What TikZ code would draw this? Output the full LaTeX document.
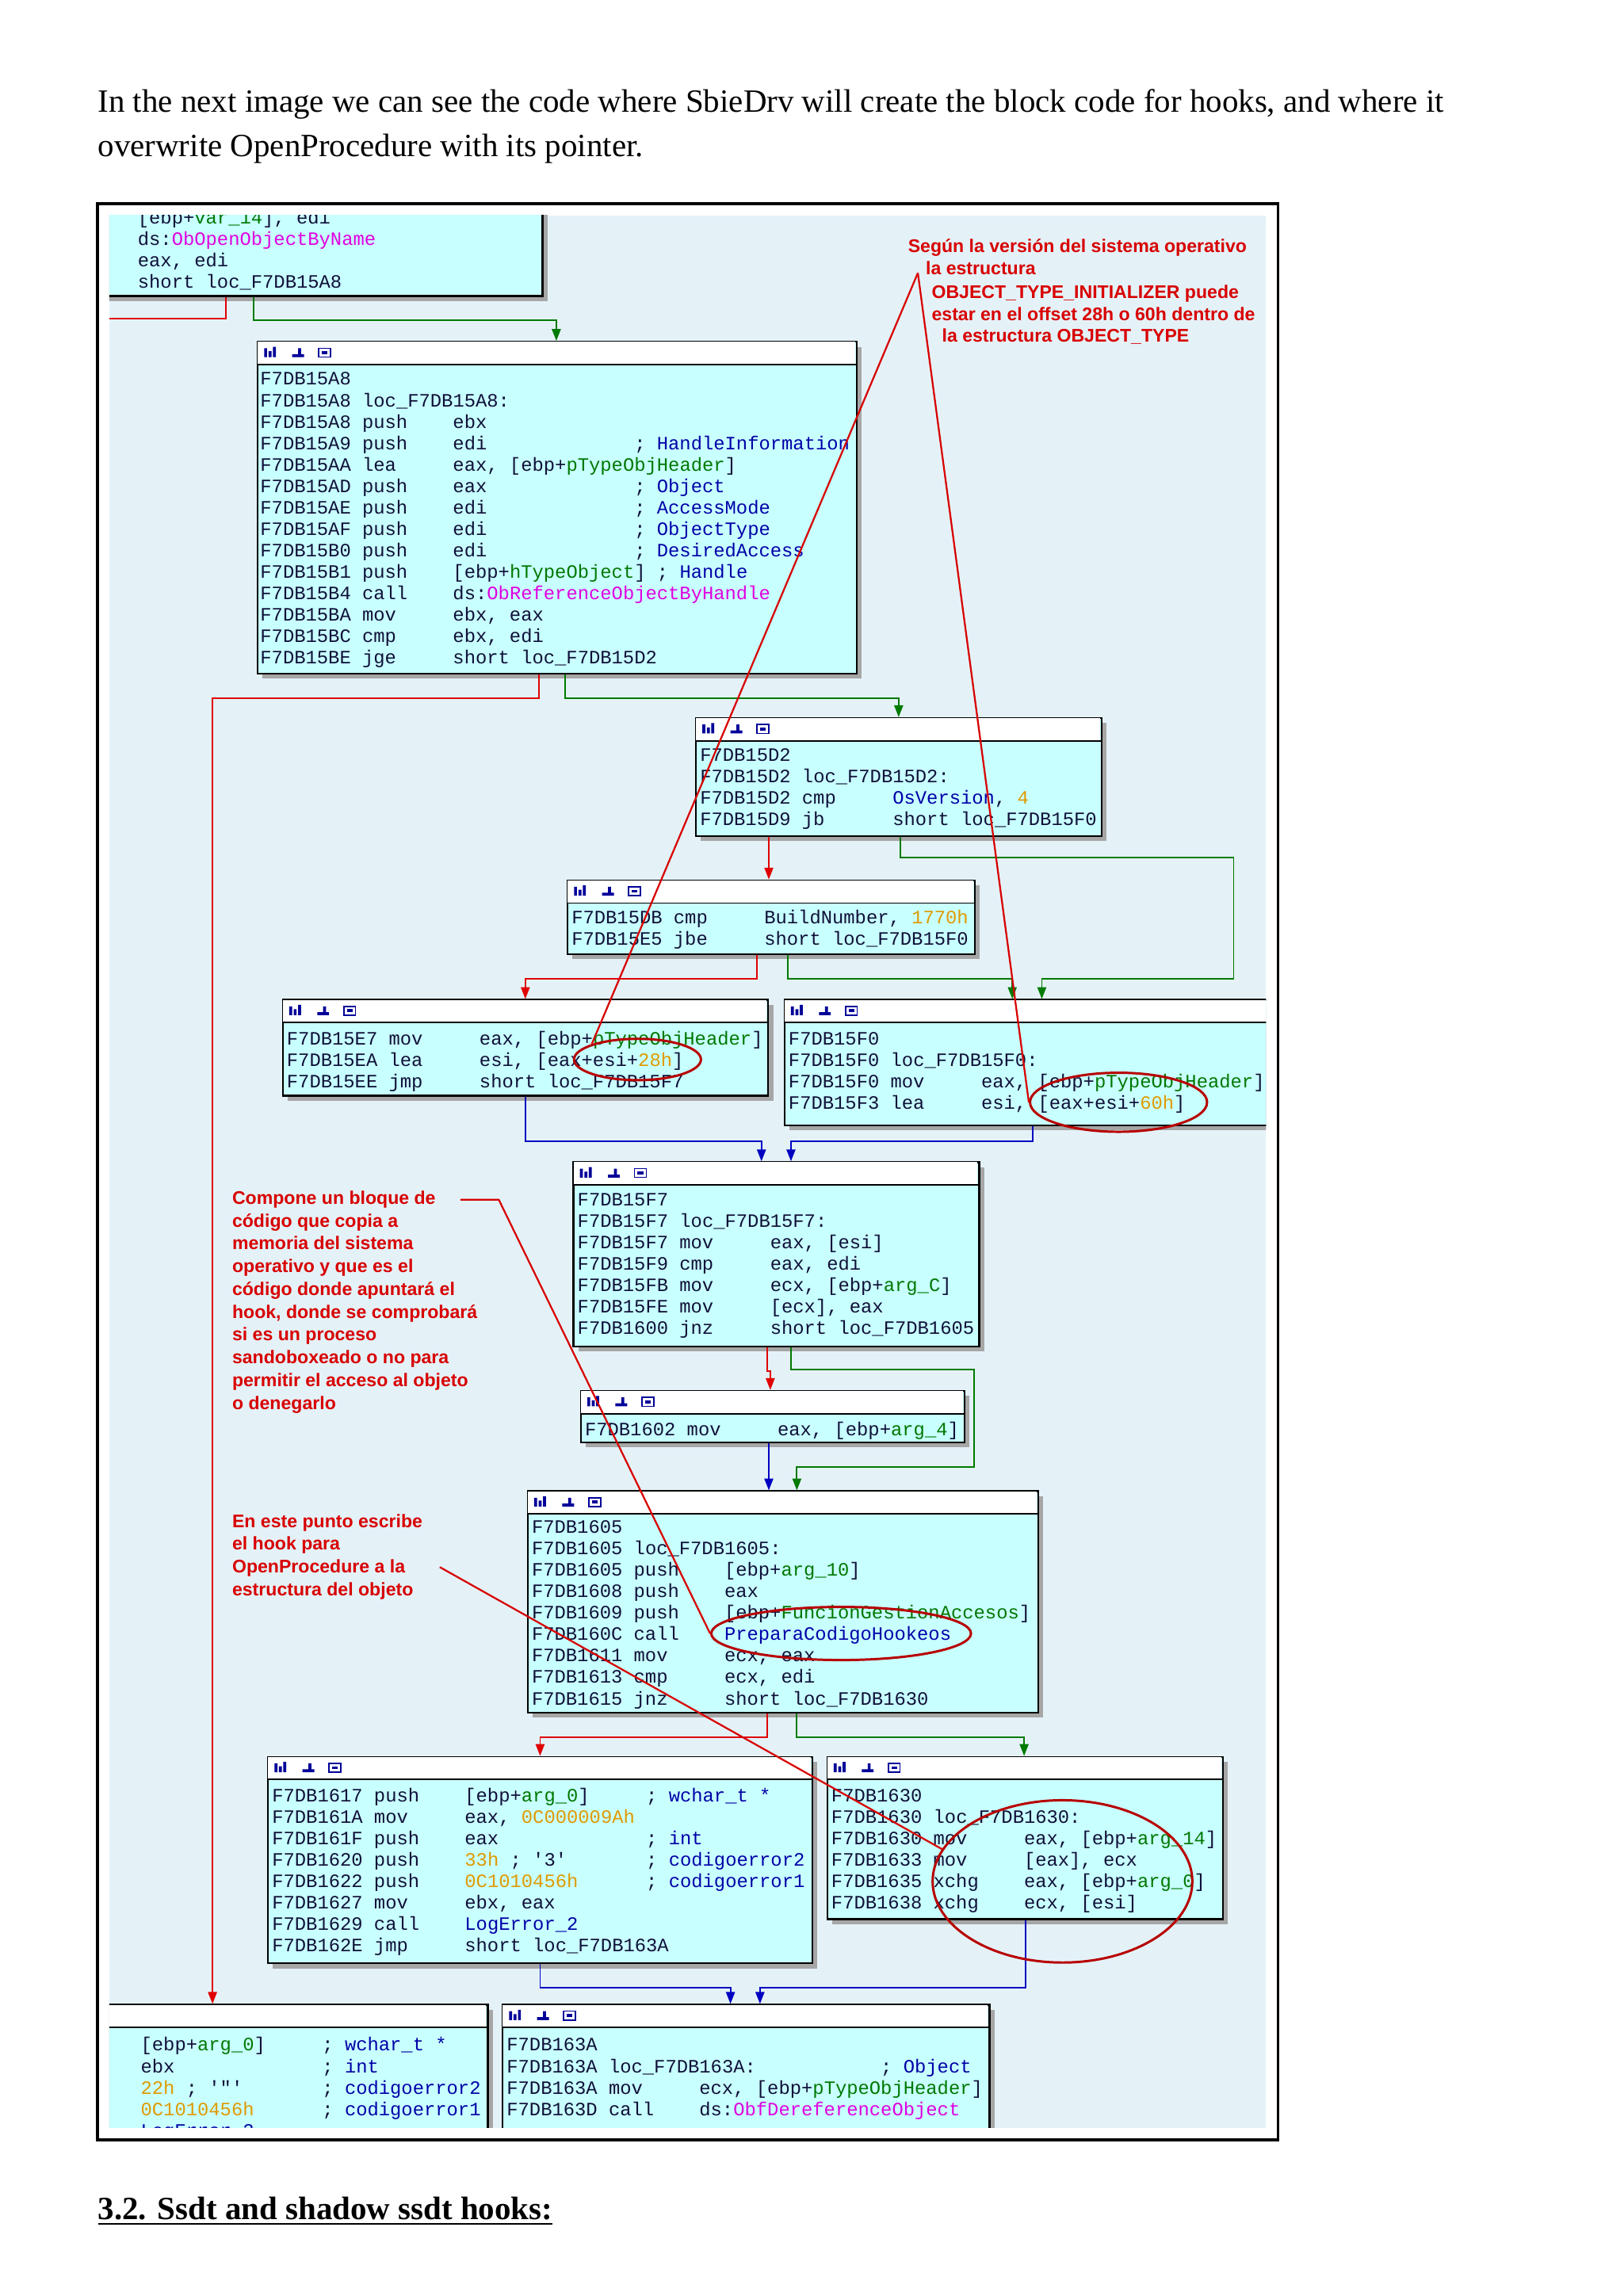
\documentclass[tikz,border=0pt]{standalone}
\usepackage{fontspec}
\setmainfont{Liberation Serif}
\newfontfamily\codefont{Liberation Mono}
\newfontfamily\annfont{Liberation Sans}
\usetikzlibrary{calc,arrows.meta,shapes.geometric}
\definecolor{bgblue}{HTML}{E4F2F8}
\definecolor{bodyc}{HTML}{C8FFFF}
\definecolor{ctxt}{HTML}{101038}
\definecolor{cblue}{HTML}{0000A8}
\definecolor{cgreen}{HTML}{007800}
\definecolor{cmag}{HTML}{E000E0}
\definecolor{corange}{HTML}{E09A00}
\definecolor{lred}{HTML}{E00000}
\definecolor{lgreen}{HTML}{007A00}
\definecolor{lblue}{HTML}{0000C0}
\definecolor{annred}{HTML}{D80000}
\newlength\cw \setlength\cw{3.84pt}
\newcommand\mb[2]{\makebox[#1\cw][l]{#2}}
\newcommand\I[3]{\mb{9}{#1}\mb{8}{#2}#3}
\newcommand\Gr[1]{\textcolor{cgreen}{#1}}
\newcommand\Mg[1]{\textcolor{cmag}{#1}}
\newcommand\Bl[1]{\textcolor{cblue}{#1}}
\newcommand\Og[1]{\textcolor{corange}{#1}}
\newcommand\Cm[1]{; \Bl{#1}}
\newcounter{lnc}
\newcommand\cl[3]{\stepcounter{lnc}\node[code] (l\thelnc) at (#1,#2) {#3};}
\newcounter{anc}
\newcommand\an[3]{\stepcounter{anc}\node[ann] (a\theanc) at (#1,#2) {#3};}
\newcommand\blk[5]{%
  \fill[black!35] (#2+4,#3+4) rectangle (#4+4,#5+4);
  \node[box, anchor=north west, minimum width={(#4-#2)*0.5pt}, minimum height={(#5-#3)*0.5pt}] (#1) at (#2,#3) {};
  \fill[white] (#2+0.6,#3+0.6) rectangle (#4-0.6,#3+16);
  \draw[line width=0.5pt] (#2,#3+16) -- (#4,#3+16);
  \fill[blue!60!black] (#2+5,#3+5) rectangle ++(2,6) (#2+8,#3+7) rectangle ++(2,4) (#2+11,#3+4) rectangle ++(2,7);
  \fill[blue!60!black] (#2+24,#3+9) rectangle ++(8,2) (#2+28,#3+5) rectangle ++(2,5);
  \draw[blue!60!black, line width=0.4pt] (#2+42,#3+5) rectangle ++(8,6);
  \fill[blue!60!black] (#2+44,#3+7) rectangle ++(4,2);
}
\tikzset{
  code/.style={font=\codefont\fontsize{6.4}{7}\selectfont, anchor=base west, inner sep=0pt, text=ctxt},
  box/.style={draw=black, line width=0.6pt, fill=bodyc, inner sep=0pt},
  ann/.style={font=\annfont\bfseries\fontsize{6.2}{7}\selectfont, anchor=base west, inner sep=0pt, text=annred},
  ell/.style={ellipse, draw=annred!85!black, line width=0.8pt, inner sep=0pt},
  aline/.style={draw=annred, line width=0.6pt},
  tip/.style={-{Triangle[length=4pt,width=3pt]}},
  rl/.style={draw=lred, line width=0.5pt, tip},
  gl/.style={draw=lgreen, line width=0.5pt, tip},
  bl/.style={draw=lblue, line width=0.5pt, tip},
}
\begin{document}
\catcode`\_=12
\begin{tikzpicture}[x=0.5pt,y=-0.5pt]
\useasboundingbox (0,0) rectangle (1100,1556);
\node[anchor=base west, inner sep=0pt, font=\fontsize{11}{13}\selectfont] (t1) at (66,76) {In the next image we can see the code where SbieDrv will create the block code for hooks, and where it};
\node[anchor=base west, inner sep=0pt, font=\fontsize{11}{13}\selectfont] (t2) at (66,106) {overwrite OpenProcedure with its pointer.};
\node[anchor=base west, inner sep=0pt, font=\bfseries\fontsize{11}{13}\selectfont] (h1) at (66,1504) {\underline{3.2. Ssdt and shadow ssdt hooks:}};
\draw[line width=1pt, fill=white] (66,138) rectangle (866,1450);
\begin{scope}
\clip (74,146) rectangle (858,1442);
\fill[bgblue] (74,146) rectangle (858,1442);
% blocks
\blk{T}{30}{100}{367}{200}
\blk{A}{174}{231}{580}{456}
\blk{B}{471}{486}{746}{566}
\blk{C}{384}{596}{660}{646}
\blk{D}{191}{677}{520}{742}
\blk{E}{531}{677}{900}{762}
\blk{F}{388}{787}{663}{912}
\blk{G}{393}{942}{653}{977}
\blk{H}{357}{1010}{703}{1160}
\blk{I}{181}{1190}{550}{1330}
\blk{J}{560}{1190}{828}{1300}
\blk{K}{20}{1358}{330}{1500}
\blk{L}{340}{1358}{670}{1500}
% connectors
\coordinate (tl1) at (74,216);
\draw[draw=lred, line width=0.5pt] ($(T.south west)+(123,0)$) |- (tl1);
\draw[gl] ($(T.south west)+(142,0)$) -- ++(0,16) -| ($(A.north west)+(203,0)$);
\draw[rl] ($(A.south west)+(191,0)$) -- ++(0,16) -| ($(K.north west)+(124,0)$);
\draw[gl] ($(A.south west)+(209,0)$) -- ++(0,16) -| ($(B.north west)+(138,0)$);
\draw[rl] ($(B.south west)+(50,0)$) -- ($(C.north west)+(137,0)$);
\draw[gl] ($(B.south west)+(139,0)$) -- ++(0,14) -- ++(226,0) -- ++(0,82) -| ($(E.north west)+(175,0)$);
\draw[rl] ($(C.south west)+(129,0)$) -- ++(0,16) -| ($(D.north west)+(165,0)$);
\draw[gl] ($(C.south west)+(150,0)$) -- ++(0,16) -| ($(E.north west)+(155,0)$);
\draw[bl] ($(D.south west)+(165,0)$) -- ++(0,30) -| ($(F.north west)+(128,0)$);
\draw[bl] ($(E.south west)+(169,0)$) -- ++(0,10) -| ($(F.north west)+(148,0)$);
\draw[rl] ($(F.south west)+(132,0)$) -- ++(0,16) -| ($(G.north west)+(129,0)$);
\draw[gl] ($(F.south west)+(148,0)$) -- ++(0,15) -- ++(124,0) -- ++(0,66) -| ($(H.north west)+(183,0)$);
\draw[bl] ($(G.south west)+(128,0)$) -- ($(H.north west)+(164,0)$);
\draw[rl] ($(H.south west)+(163,0)$) -- ++(0,16) -| ($(I.north west)+(185,0)$);
\draw[gl] ($(H.south west)+(183,0)$) -- ++(0,16) -| ($(J.north west)+(134,0)$);
\draw[bl] ($(I.south west)+(185,0)$) -- ++(0,16) -| ($(L.north west)+(155,0)$);
\draw[bl] ($(J.south west)+(135,0)$) -- ++(0,46) -| ($(L.north west)+(175,0)$);
% code T
\cl{93}{152}{[ebp+\Gr{var_14}], edi}
\cl{93}{166}{ds:\Mg{ObOpenObjectByName}}
\cl{93}{181}{eax, edi}
\cl{93}{195}{short loc_F7DB15A8}
% code A
\def\y{261}\def\dy{14.54}
\cl{176}{\y}{F7DB15A8}
\cl{176}{\y+\dy}{F7DB15A8 loc_F7DB15A8:}
\cl{176}{\y+2*\dy}{\I{F7DB15A8}{push}{ebx}}
\cl{176}{\y+3*\dy}{\I{F7DB15A9}{push}{\mb{16}{edi}\Cm{HandleInformation}}}
\cl{176}{\y+4*\dy}{\I{F7DB15AA}{lea}{eax, [ebp+\Gr{pTypeObjHeader}]}}
\cl{176}{\y+5*\dy}{\I{F7DB15AD}{push}{\mb{16}{eax}\Cm{Object}}}
\cl{176}{\y+6*\dy}{\I{F7DB15AE}{push}{\mb{16}{edi}\Cm{AccessMode}}}
\cl{176}{\y+7*\dy}{\I{F7DB15AF}{push}{\mb{16}{edi}\Cm{ObjectType}}}
\cl{176}{\y+8*\dy}{\I{F7DB15B0}{push}{\mb{16}{edi}\Cm{DesiredAccess}}}
\cl{176}{\y+9*\dy}{\I{F7DB15B1}{push}{[ebp+\Gr{hTypeObject}] \Cm{Handle}}}
\cl{176}{\y+10*\dy}{\I{F7DB15B4}{call}{ds:\Mg{ObReferenceObjectByHandle}}}
\cl{176}{\y+11*\dy}{\I{F7DB15BA}{mov}{ebx, eax}}
\cl{176}{\y+12*\dy}{\I{F7DB15BC}{cmp}{ebx, edi}}
\cl{176}{\y+13*\dy}{\I{F7DB15BE}{jge}{short loc_F7DB15D2}}
% code B
\def\y{516}
\cl{474}{\y}{F7DB15D2}
\cl{474}{\y+\dy}{F7DB15D2 loc_F7DB15D2:}
\cl{474}{\y+2*\dy}{\I{F7DB15D2}{cmp}{\Bl{OsVersion}, \Og{4}}}
\cl{474}{\y+3*\dy}{\I{F7DB15D9}{jb}{short loc_F7DB15F0}}
% code C
\def\y{626}
\cl{387}{\y}{\I{F7DB15DB}{cmp}{BuildNumber, \Og{1770h}}}
\cl{387}{\y+\dy}{\I{F7DB15E5}{jbe}{short loc_F7DB15F0}}
% code D
\def\y{708}
\cl{194}{\y}{\I{F7DB15E7}{mov}{eax, [ebp+\Gr{pTypeObjHeader}]}}
\cl{194}{\y+\dy}{\I{F7DB15EA}{lea}{esi, [eax+esi+\Og{28h}]}}
\cl{194}{\y+2*\dy}{\I{F7DB15EE}{jmp}{short loc_F7DB15F7}}
% code E
\cl{534}{\y}{F7DB15F0}
\cl{534}{\y+\dy}{F7DB15F0 loc_F7DB15F0:}
\cl{534}{\y+2*\dy}{\I{F7DB15F0}{mov}{eax, [ebp+\Gr{pTypeObjHeader}]}}
\cl{534}{\y+3*\dy}{\I{F7DB15F3}{lea}{esi, [eax+esi+\Og{60h}]}}
% code F
\def\y{817}
\cl{391}{\y}{F7DB15F7}
\cl{391}{\y+\dy}{F7DB15F7 loc_F7DB15F7:}
\cl{391}{\y+2*\dy}{\I{F7DB15F7}{mov}{eax, [esi]}}
\cl{391}{\y+3*\dy}{\I{F7DB15F9}{cmp}{eax, edi}}
\cl{391}{\y+4*\dy}{\I{F7DB15FB}{mov}{ecx, [ebp+\Gr{arg_C}]}}
\cl{391}{\y+5*\dy}{\I{F7DB15FE}{mov}{[ecx], eax}}
\cl{391}{\y+6*\dy}{\I{F7DB1600}{jnz}{short loc_F7DB1605}}
% code G
\cl{396}{973}{\I{F7DB1602}{mov}{eax, [ebp+\Gr{arg_4}]}}
% code H
\def\y{1039}
\cl{360}{\y}{F7DB1605}
\cl{360}{\y+\dy}{F7DB1605 loc_F7DB1605:}
\cl{360}{\y+2*\dy}{\I{F7DB1605}{push}{[ebp+\Gr{arg_10}]}}
\cl{360}{\y+3*\dy}{\I{F7DB1608}{push}{eax}}
\cl{360}{\y+4*\dy}{\I{F7DB1609}{push}{[ebp+\Gr{FuncionGestionAccesos}]}}
\cl{360}{\y+5*\dy}{\I{F7DB160C}{call}{\Bl{PreparaCodigoHookeos}}}
\cl{360}{\y+6*\dy}{\I{F7DB1611}{mov}{ecx, eax}}
\cl{360}{\y+7*\dy}{\I{F7DB1613}{cmp}{ecx, edi}}
\cl{360}{\y+8*\dy}{\I{F7DB1615}{jnz}{short loc_F7DB1630}}
% code I
\def\y{1221}
\cl{184}{\y}{\I{F7DB1617}{push}{\mb{16}{[ebp+\Gr{arg_0}]}\Cm{wchar_t *}}}
\cl{184}{\y+\dy}{\I{F7DB161A}{mov}{eax, \Og{0C000009Ah}}}
\cl{184}{\y+2*\dy}{\I{F7DB161F}{push}{\mb{16}{eax}\Cm{int}}}
\cl{184}{\y+3*\dy}{\I{F7DB1620}{push}{\mb{16}{\Og{33h} ; '3'}\Cm{codigoerror2}}}
\cl{184}{\y+4*\dy}{\I{F7DB1622}{push}{\mb{16}{\Og{0C1010456h}}\Cm{codigoerror1}}}
\cl{184}{\y+5*\dy}{\I{F7DB1627}{mov}{ebx, eax}}
\cl{184}{\y+6*\dy}{\I{F7DB1629}{call}{\Bl{LogError_2}}}
\cl{184}{\y+7*\dy}{\I{F7DB162E}{jmp}{short loc_F7DB163A}}
% code J
\cl{563}{\y}{F7DB1630}
\cl{563}{\y+\dy}{F7DB1630 loc_F7DB1630:}
\cl{563}{\y+2*\dy}{\I{F7DB1630}{mov}{eax, [ebp+\Gr{arg_14}]}}
\cl{563}{\y+3*\dy}{\I{F7DB1633}{mov}{[eax], ecx}}
\cl{563}{\y+4*\dy}{\I{F7DB1635}{xchg}{eax, [ebp+\Gr{arg_0}]}}
\cl{563}{\y+5*\dy}{\I{F7DB1638}{xchg}{ecx, [esi]}}
% code K
\def\y{1390}
\cl{95}{\y}{\mb{16}{[ebp+\Gr{arg_0}]}\Cm{wchar_t *}}
\cl{95}{\y+\dy}{\mb{16}{ebx}\Cm{int}}
\cl{95}{\y+2*\dy}{\mb{16}{\Og{22h} ; '"'}\Cm{codigoerror2}}
\cl{95}{\y+3*\dy}{\mb{16}{\Og{0C1010456h}}\Cm{codigoerror1}}
\cl{95}{\y+4*\dy}{\Bl{LogError_2}}
% code L
\cl{343}{\y}{F7DB163A}
\cl{343}{\y+\dy}{\mb{33}{F7DB163A loc_F7DB163A:}\Cm{Object}}
\cl{343}{\y+2*\dy}{\I{F7DB163A}{mov}{ecx, [ebp+\Gr{pTypeObjHeader}]}}
\cl{343}{\y+3*\dy}{\I{F7DB163D}{call}{ds:\Mg{ObfDereferenceObject}}}
% annotations
\node[ell, minimum width=43pt, minimum height=14pt] (e1) at (432,718) {};
\node[ell, minimum width=60pt, minimum height=20pt] (e2) at (758,747) {};
\node[ell, minimum width=88pt, minimum height=18pt] (e3) at (570,1107) {};
\node[ell, minimum width=88pt, minimum height=55pt] (e4) at (720,1275) {};
\an{615}{171}{Según la versión del sistema operativo}
\an{627}{186}{la estructura}
\an{631}{202}{OBJECT_TYPE_INITIALIZER puede}
\an{631}{217}{estar en el offset 28h o 60h dentro de}
\an{638}{232}{la estructura OBJECT_TYPE}
\coordinate (p1) at (622,185);
\draw[aline] (p1) -- (e1.north west);
\draw[aline] (p1) -- (e2.west);
\def\y{816}\def\ee{15.45}
\an{157}{\y}{Compone un bloque de}
\an{157}{\y+\ee}{código que copia a}
\an{157}{\y+2*\ee}{memoria del sistema}
\an{157}{\y+3*\ee}{operativo y que es el}
\an{157}{\y+4*\ee}{código donde apuntará el}
\an{157}{\y+5*\ee}{hook, donde se comprobará}
\an{157}{\y+6*\ee}{si es un proceso}
\an{157}{\y+7*\ee}{sandoboxeado o no para}
\an{157}{\y+8*\ee}{permitir el acceso al objeto}
\an{157}{\y+9*\ee}{o denegarlo}
\coordinate (p2) at (312,813);
\draw[aline] (p2) -- (338,813) -- (e3.west);
\def\y{1035}
\an{157}{\y}{En este punto escribe}
\an{157}{\y+\ee}{el hook para}
\an{157}{\y+2*\ee}{OpenProcedure a la}
\an{157}{\y+3*\ee}{estructura del objeto}
\coordinate (p3) at (298,1062);
\draw[aline] (p3) -- (e4.165);
\end{scope}
\end{tikzpicture}
\end{document}
